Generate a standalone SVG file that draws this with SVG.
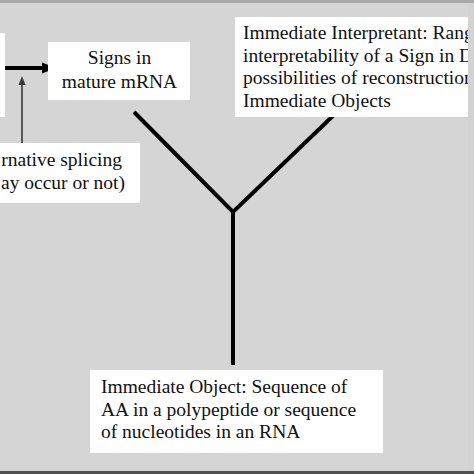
<svg xmlns="http://www.w3.org/2000/svg" width="474" height="474" viewBox="0 0 474 474">
<style>
.box{fill:#ffffff}
.t{font-family:"Liberation Serif","Times New Roman",serif;font-size:19.5px;fill:#111}
.stem{stroke:#000;stroke-width:4;fill:none;stroke-linecap:butt}
</style>
<rect x="0" y="0" width="474" height="474" fill="#d5d5d5"/>
<rect x="0" y="0" width="474" height="3" fill="#a9a9a9"/>
<g id="connectors">
<line x1="0" y1="68" x2="44" y2="68" stroke="#000" stroke-width="4"/>
<polygon points="42,62.5 56,68 42,73.5" fill="#000"/>
<line x1="22" y1="143" x2="22" y2="84" stroke="#3a3a3a" stroke-width="1.6"/>
<polygon points="18.5,85 22,76 25.5,85" fill="#3a3a3a"/>
<polyline class="stem" points="134,112 233,212 336,113"/>
<line class="stem" x1="233" y1="211" x2="233" y2="365"/>
</g>
<g id="node-left">
<rect class="box" x="0" y="33" width="5" height="84"/>
</g>
<g id="node-signs">
<rect class="box" x="48" y="42" width="142" height="58"/>
<text class="t" x="119.5" y="64" text-anchor="middle">Signs in</text>
<text class="t" x="119.5" y="88" text-anchor="middle">mature mRNA</text>
</g>
<g id="node-splicing">
<rect class="box" x="0" y="143" width="140" height="60"/>
<text class="t" x="122" y="166" text-anchor="end">rnative splicing</text>
<text class="t" x="125" y="189" text-anchor="end">ay occur or not)</text>
</g>
<g id="node-interpretant">
<rect class="box" x="235" y="17" width="239" height="100"/>
<text class="t" x="243" y="39">Immediate Interpretant: Rang</text>
<text class="t" x="243" y="61.5">interpretability of a Sign in D</text>
<text class="t" x="243" y="84">possibilities of reconstruction</text>
<text class="t" x="243" y="106.5">Immediate Objects</text>
</g>
<rect x="468" y="3" width="6" height="468" fill="#d3d3d3"/>
<g id="node-object">
<rect class="box" x="90" y="370" width="293" height="83"/>
<text class="t" x="101" y="393">Immediate Object: Sequence of</text>
<text class="t" x="101" y="415.5">AA in a polypeptide or sequence</text>
<text class="t" x="101" y="438">of nucleotides in an RNA</text>
</g>
<rect x="0" y="471" width="474" height="3" fill="#4f4f4f"/>
</svg>
